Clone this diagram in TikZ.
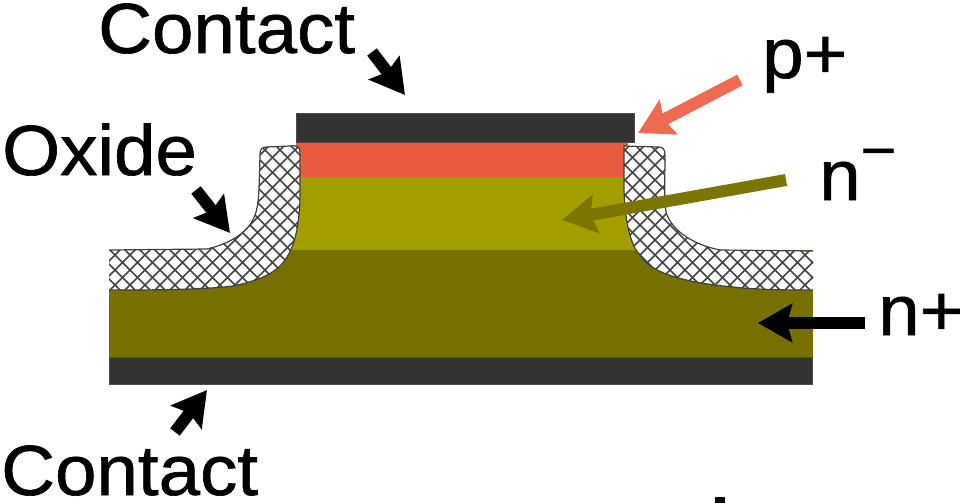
\documentclass[tikz,border=0pt]{standalone}
\usepackage{fontspec}
\setmainfont[FakeBold=0.9,FakeStretch=1.05]{Liberation Sans}
\usetikzlibrary{arrows.meta}
\definecolor{contactc}{HTML}{333333}
\definecolor{redc}{HTML}{E85B3F}
\definecolor{lightol}{HTML}{A39E00}
\definecolor{darkol}{HTML}{757000}
\definecolor{parrow}{HTML}{EE6A50}
\definecolor{narrow}{HTML}{7A7600}
\definecolor{hatchc}{HTML}{444444}
\tikzset{
  lbl/.style={anchor=base west,inner sep=0pt,font=\fontsize{71}{80}\selectfont,text=black},
  callout/.style={line width=12pt,-{Stealth[length=34pt,width=38pt,inset=5pt]}},
  contactlayer/.style={fill=contactc,draw=black!70,line width=1pt},
  oxideedge/.style={draw=black!75,line width=1.2pt},
}
\newcommand{\oxleft}{(109,250) -- (207,249) .. controls (233,243) and (250,230) .. (255,215) .. controls (259,205) and (259,190) .. (260,155) .. controls (260,149) and (262,147) .. (267,147) -- (290,146) .. controls (297,145) and (300,147) .. (300,152) -- (300,200) .. controls (299,225) and (295,245) .. (287,257) .. controls (278,272) and (262,280) .. (233,286) .. controls (200,290) and (150,290) .. (109,290)}
\newcommand{\oxright}{(813,251) -- (720,250) .. controls (695,245) and (672,232) .. (666,212) .. controls (664,200) and (665,180) .. (665,155) .. controls (665,149) and (663,147) .. (658,147) -- (624,146) -- (624,190) .. controls (625,220) and (630,245) .. (640,255) .. controls (650,272) and (680,282) .. (733,287) .. controls (760,290) and (790,290) .. (813,290)}
\newcommand{\hatching}{%
  \foreach \k in {0,15,...,1300}{
    \draw[hatchc,line width=1.6pt] (\k-250,100) -- ++(250,250);
    \draw[hatchc,line width=1.6pt] (\k,100) -- ++(-250,250);
  }%
}
\begin{document}
\begin{tikzpicture}[x=1pt,y=-1pt]
\useasboundingbox (0,0) rectangle (962,503);
% layers
\fill[darkol] (109,250) rectangle (813,357);
\fill[lightol] (285,177) rectangle (640,250);
\fill[redc] (296,142) rectangle (628,177);
\draw[contactlayer] (296,114) rectangle (634,142);
\draw[contactlayer] (109,357) rectangle (812,384);
% oxide
\fill[white] \oxleft;
\begin{scope}\clip \oxleft; \hatching \end{scope}
\draw[oxideedge] \oxleft;
\fill[white] \oxright;
\begin{scope}\clip \oxright; \hatching \end{scope}
\draw[oxideedge] \oxright;
% labels
\node[lbl] (contactTop) at (98,53) {Contact};
\node[lbl] (oxide) at (2,175) {Oxide};
\node[lbl] (pplus) at (762,78) {p+};
\node[lbl] (nminus) at (819,200) {n\raisebox{0.42em}{\fontsize{58}{60}\selectfont −}};
\node[lbl] (nplus) at (878,335) {n+};
\node[lbl] (contactBot) at (1,495) {Contact};
% arrow ends
\coordinate (a1s) at (372,52);  \coordinate (a1e) at (405,95);
\coordinate (a2s) at (196,190); \coordinate (a2e) at (230,233);
\coordinate (a3s) at (740,80);  \coordinate (a3e) at (638,133);
\coordinate (a4s) at (786,180); \coordinate (a4e) at (562,220);
\coordinate (a5s) at (865,323); \coordinate (a5e) at (758,323);
\coordinate (a6s) at (175,432); \coordinate (a6e) at (207,390);
\draw[callout,black] (a1s) -- (a1e);
\draw[callout,black] (a2s) -- (a2e);
\draw[callout,parrow] (a3s) -- (a3e);
\draw[callout,narrow] (a4s) -- (a4e);
\draw[callout,black] (a5s) -- (a5e);
\draw[callout,black] (a6s) -- (a6e);
% speck at the bottom edge
\fill[black] (715,497) rectangle (725,503);
\end{tikzpicture}
\end{document}
